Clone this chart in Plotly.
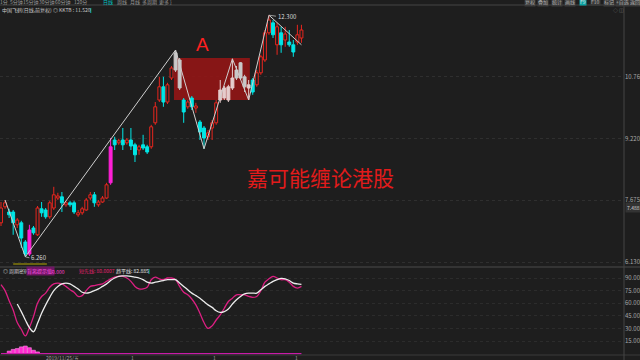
import plotly.graph_objects as go

# ---------------- data ----------------
opens = [7.11, 7.51, 7.38, 7.38, 7.06, 7.11, 6.63, 6.33, 6.98, 6.81,
         7.46, 7.43, 7.26, 7.48, 7.73, 7.76, 7.56, 7.61, 7.61, 7.31,
         7.36, 7.43, 7.73, 7.81, 7.56, 7.63, 7.73, 8.11, 9.18, 9.11,
         9.18, 9.11, 9.18, 9.06, 8.93, 9.06, 9.01, 9.01, 9.61, 10.18,
         10.51, 10.13, 10.73, 11.36, 11.18, 10.18, 10.01, 10.23, 9.98, 9.63,
         9.48, 9.26, 9.48, 9.61, 10.18, 10.23, 10.18, 10.48, 10.93, 11.11,
         10.76, 10.48, 10.68, 10.56, 10.86, 11.18, 11.86, 12.11, 11.56, 11.86,
         11.68, 11.63, 11.56, 11.63, 11.73]
highs = [7.63, 7.68, 7.46, 7.43, 7.23, 7.16, 6.68, 7.06, 7.03, 7.53,
         7.63, 7.48, 7.66, 8.01, 7.86, 7.88, 7.66, 7.66, 7.66, 7.43,
         7.51, 7.73, 7.88, 7.88, 7.68, 7.78, 8.11, 9.23, 9.26, 9.21,
         9.48, 9.23, 9.48, 9.11, 9.06, 9.31, 9.06, 9.56, 10.13, 10.76,
         10.76, 10.61, 11.03, 11.43, 11.23, 10.23, 10.18, 10.28, 10.11, 9.68,
         9.53, 9.43, 9.68, 10.18, 10.68, 10.53, 10.56, 11.21, 11.03, 11.13,
         10.81, 10.68, 10.73, 10.93, 11.31, 11.93, 12.30, 12.18, 12.11, 12.01,
         12.01, 11.93, 11.68, 12.06, 12.06]
lows = [7.03, 7.46, 7.23, 6.81, 6.98, 6.48, 6.26, 6.28, 6.81, 6.78,
        7.26, 7.21, 7.21, 7.43, 7.68, 7.38, 7.51, 7.51, 7.33, 7.26,
        7.31, 7.41, 7.68, 7.51, 7.51, 7.61, 7.71, 8.06, 8.93, 9.06,
        8.93, 9.06, 8.93, 8.63, 8.81, 8.93, 8.83, 8.96, 9.56, 10.13,
        10.01, 10.08, 10.68, 10.88, 10.43, 9.61, 9.96, 9.93, 9.86, 9.18,
        8.96, 9.18, 9.18, 9.56, 10.11, 10.18, 10.13, 10.43, 10.68, 10.68,
        10.38, 10.18, 10.31, 10.51, 10.81, 11.13, 11.81, 11.73, 11.31, 11.36,
        11.51, 11.51, 11.26, 11.56, 11.61]
closes = [7.48, 7.61, 7.31, 7.11, 7.18, 6.73, 6.33, 6.93, 6.86, 7.48,
          7.36, 7.26, 7.61, 7.81, 7.78, 7.61, 7.61, 7.56, 7.38, 7.36,
          7.46, 7.68, 7.81, 7.61, 7.63, 7.73, 8.06, 9.01, 9.06, 9.16,
          9.06, 9.18, 9.03, 8.81, 9.01, 8.98, 8.88, 9.51, 10.01, 10.51,
          10.13, 10.56, 10.98, 10.93, 10.48, 9.88, 10.13, 10.01, 10.03, 9.38,
          9.23, 9.36, 9.61, 10.11, 10.43, 10.48, 10.51, 10.73, 10.73, 10.73,
          10.51, 10.56, 10.38, 10.86, 11.26, 11.86, 12.18, 11.81, 12.01, 11.56,
          11.83, 11.56, 11.38, 11.81, 11.93]
big_idx = [7, 27]

zz_idx = [1, 6, 43, 50, 57, 61, 66, 74]
zz_price = [7.68, 6.26, 11.43, 8.96, 11.21, 10.18, 12.30, 11.56]

box_i = [42.6, 61.3]
box_p = [10.18, 11.23]
low_mark_i = [3.0, 11.3]
low_mark_p = 6.08

osc_pink = [82, 75, 63, 52, 37, 29, 21, 31, 44, 60,
            68, 72, 79, 83, 84, 83, 80, 76, 73, 68,
            69, 75, 80, 81, 82, 83, 86, 89, 91, 92,
            92, 90, 86, 80, 77, 77, 79, 88, 91, 89,
            88, 90, 90, 88, 80, 73, 70, 65, 58, 48,
            37, 30, 33, 40, 46, 54, 62, 66, 70, 70,
            70, 68, 67, 68, 75, 85, 89, 92, 90, 88,
            88, 85, 80, 78, 80]
osc_white = [None, None, None, None, 59, 50, 40, 31, 26, 36,
             48, 58, 67, 75, 80, 83, 84, 83, 80, 77,
             73, 72, 73, 75, 77, 80, 83, 87, 90, 92,
             92.5, 92.5, 92, 91, 90, 88, 85, 84, 85, 86,
             87, 88, 88, 88, 84, 80, 76, 72, 69, 66,
             62, 58, 55, 51, 49, 50, 53, 59, 64, 68,
             71, 72, 72, 72, 76, 80, 83, 86, 88, 89.5,
             89, 87, 84, 83, 82.5]
hist_idx = [2, 3, 4, 5, 6, 7, 8, 9]
hist_val = [3, 5, 6, 8, 9, 7, 4, 2]

price_ticks = [6.13, 7.675, 9.22, 10.765]
price_tick_text = ["6.130", "7.675", "9.220", "10.765"]
osc_ticks = [15, 30, 45, 60, 75, 90]
osc_tick_text = ["15.00", "30.00", "45.00", "60.00", "75.00", "90.00"]
date_labels = ["2019/8", "2019/11/25/五", "1", "1", "1"]
date_pos = [-0.25, 10.6, 32.3, 52.5, 72.7]

# ---------------- style ----------------
BG = "#1e1e1e"
RED = "#e8261e"
CYAN = "#00e6e6"
MAG = "#ff1fd6"
LIGHT_UP = "#e6cccc"
LIGHT_DN = "#c8c8c8"
FONT = "Noto Sans CJK SC, Liberation Sans, sans-serif"
W, H = 640, 360


def px(xp):
    return xp / W


def py(yp):
    return 1 - yp / H


fig = go.Figure()

n = len(opens)
xs = list(range(n))
fills, edge, bases, heights = [], [], [], []
wicks = {}
for i in xs:
    o, h, l, c = opens[i], highs[i], lows[i], closes[i]
    lo_b, hi_b = min(o, c), max(o, c)
    in_box = box_i[0] <= i <= box_i[1] and lo_b >= box_p[0] - 0.06
    if i in big_idx:
        f = ln = MAG
    elif in_box:
        f = ln = LIGHT_UP if c >= o else LIGHT_DN
    elif c >= o:
        f, ln = BG, RED
    else:
        f = ln = CYAN
    hgt = max(hi_b - lo_b, 0.03)
    fills.append(f)
    edge.append(ln)
    bases.append(lo_b)
    heights.append(hgt)
    sx, sy = wicks.setdefault(ln, ([], []))
    sx.extend([i, i, None, i, i, None])
    sy.extend([lo_b + hgt, h, None, l, lo_b, None])

for col, (sx, sy) in wicks.items():
    fig.add_trace(go.Scatter(x=sx, y=sy, mode="lines", line=dict(color=col, width=1),
                             hoverinfo="skip", xaxis="x", yaxis="y"))

fig.add_trace(go.Bar(x=xs, y=heights, base=bases, width=0.72,
                     marker=dict(color=fills, line=dict(color=edge, width=1)),
                     hoverinfo="skip", xaxis="x", yaxis="y"))

fig.add_trace(go.Scatter(x=zz_idx, y=zz_price, mode="lines",
                         line=dict(color="#cfcfcf", width=1), hoverinfo="skip",
                         xaxis="x", yaxis="y"))

# lower panel
fig.add_trace(go.Bar(x=hist_idx, y=hist_val, width=0.95,
                     marker=dict(color="#ff2ccf", line=dict(color="#ff8fe8", width=0.6)),
                     hoverinfo="skip", xaxis="x2", yaxis="y2"))
fig.add_trace(go.Scatter(x=xs, y=osc_pink, mode="lines", line=dict(color="#dc1f82", width=1.3, shape="spline"),
                         hoverinfo="skip", xaxis="x2", yaxis="y2"))
fig.add_trace(go.Scatter(x=xs, y=osc_white, mode="lines", line=dict(color="#ececec", width=1.3, shape="spline"),
                         hoverinfo="skip", xaxis="x2", yaxis="y2"))

shapes = [
    dict(type="rect", xref="x", yref="y", x0=box_i[0], x1=box_i[1], y0=box_p[0], y1=box_p[1],
         fillcolor="rgba(150,22,22,0.88)", line=dict(width=0), layer="between"),
    dict(type="line", xref="x", yref="y", x0=low_mark_i[0], x1=low_mark_i[1], y0=low_mark_p, y1=low_mark_p,
         line=dict(color="#b3a600", width=1)),
    dict(type="line", xref="x2", yref="y2", x0=xs[0], x1=xs[-1], y0=0, y1=0,
         line=dict(color="#c81aa8", width=1.2)),
    dict(type="line", xref="paper", yref="paper", x0=0, x1=1, y0=py(5), y1=py(5),
         line=dict(color="#454545", width=1)),
    dict(type="line", xref="paper", yref="paper", x0=0, x1=1, y0=py(267), y1=py(267),
         line=dict(color="#4a4a4a", width=1)),
    dict(type="line", xref="paper", yref="paper", x0=0, x1=1, y0=py(355), y1=py(355),
         line=dict(color="#3a3a3a", width=1)),
    dict(type="line", xref="paper", yref="paper", x0=px(624), x1=px(624), y0=0, y1=py(5),
         line=dict(color="#454545", width=1)),
]

ann = []


def txt(t, xp_, yp_, size=5, color="#bdbdbd", xanchor="left", bg=None, **kw):
    d = dict(text=t, x=px(xp_), y=py(yp_), xref="paper", yref="paper", showarrow=False,
             xanchor=xanchor, yanchor="middle", font=dict(size=size, color=color, family=FONT))
    if bg:
        d["bgcolor"] = bg
        d["borderpad"] = 0
    d.update(kw)
    ann.append(d)


# top toolbar (partly clipped at the top edge)
tool_items = ["1分", "5分钟", "15分钟", "30分钟", "60分钟", "120分", "日线", "周线", "月线", "多周期", "更多 }"]
tool_x = [4, 16, 31, 47, 63, 80, 108, 122, 135, 149, 165]
for t, xx in zip(tool_items, tool_x):
    txt(t, xx, 2.0, size=5, color="#00c8c8" if t == "日线" else "#9a9a9a", xanchor="center")
btn_items = ["复权", "叠加", "统计", "画线", "F9", "F10", "标记", "+自选", "返回"]
btn_x = [530, 543, 557, 570, 583, 595, 609, 622, 635]
for t, xx in zip(btn_items, btn_x):
    hl = t == "F9"
    txt(t, xx, 2.0, size=5, color="#e8e8e8" if hl else "#b0b0b0", xanchor="center",
        bg="#0aa3a3" if hl else "#3a3a3a")

txt("中国飞鹤(日线,前复权) ◎ KKTB : 11.520<span style='color:#00e6e6'>▏</span>", 0, 9.5,
    size=5, color="#c8c8c8")
txt("◇ ◫", 611, 9.5, size=5, color="#707070")

# lower header
txt("◎ 周期密码", 1, 271, color="#d0d0d0")
txt("背离提示值:", 26, 271, color="#ff5ae6", bg="#6e1664")
txt("0.000", 50, 271, color="#ff3fd6")
txt("短先线: 80.0007", 77, 271, color="#e0206e")
txt("趋平线: 82.885<span style='color:#00e6e6'>▏</span>", 114, 271, color="#e6e6e6")

# date labels
for t, xv in zip(date_labels, date_pos):
    ann.append(dict(text=t, x=xv, y=py(357.5), xref="x2", yref="paper", showarrow=False,
                    xanchor="left" if t != "1" else "center", yanchor="middle",
                    font=dict(size=5, color="#a0a0a0", family=FONT)))

# chart labels
ann.append(dict(text="A", x=49.75, y=11.56, xref="x", yref="y", showarrow=False,
                font=dict(size=19, color="#ff2020", family="Liberation Sans")))
ann.append(dict(text="嘉可能缠论港股", x=78.8, y=8.25, xref="x", yref="y", showarrow=False,
                font=dict(size=21, color="#e21b1b", family="Noto Sans CJK SC")))
ann.append(dict(text="12.300", x=zz_idx[6], y=zz_price[6], xref="x", yref="y", showarrow=True,
                arrowhead=0, arrowwidth=0.8, arrowcolor="#bbbbbb", ax=7, ay=1, xanchor="left",
                font=dict(size=6, color="#d8d8d8", family=FONT)))
ann.append(dict(text="6.260", x=zz_idx[1], y=zz_price[1], xref="x", yref="y", showarrow=True,
                arrowhead=0, arrowwidth=0.8, arrowcolor="#bbbbbb", ax=4, ay=1, xanchor="left",
                font=dict(size=6, color="#d8d8d8", family=FONT)))
ann.append(dict(text="7.488", x=px(625), y=7.488, xref="paper", yref="y", showarrow=False,
                xanchor="left", yanchor="middle", bgcolor="#333333",
                font=dict(size=5, color="#d0d0d0", family=FONT)))

yd_main = [py(267), py(5)]
yd_low = [py(355), py(267)]

fig.update_layout(
    width=W, height=H, margin=dict(l=0, r=0, t=0, b=0),
    paper_bgcolor=BG, plot_bgcolor=BG, showlegend=False, barmode="overlay",
    hovermode=False, font=dict(family=FONT),
    xaxis=dict(domain=[0, px(624)], range=[-0.246, 153.45], showgrid=False, zeroline=False,
               showticklabels=False, anchor="y", fixedrange=True),
    yaxis=dict(domain=yd_main, range=[6.005, 12.555], side="right", tickvals=price_ticks,
               ticktext=price_tick_text, tickfont=dict(size=6, color="#a8a8a8"), showgrid=True,
               gridcolor="#2f2f2f", griddash="dot", zeroline=False, anchor="x", ticks="",
               automargin=False),
    xaxis2=dict(domain=[0, px(624)], matches="x", showgrid=False, zeroline=False,
                showticklabels=False, anchor="y2"),
    yaxis2=dict(domain=yd_low, range=[-1.67, 103.1], side="right", tickvals=osc_ticks,
                ticktext=osc_tick_text, tickfont=dict(size=6, color="#a8a8a8"), showgrid=True,
                gridcolor="#2c2c2c", griddash="dot", zeroline=False, anchor="x2", ticks="",
                automargin=False),
    shapes=shapes, annotations=ann,
)

fig.write_html("out.html")
